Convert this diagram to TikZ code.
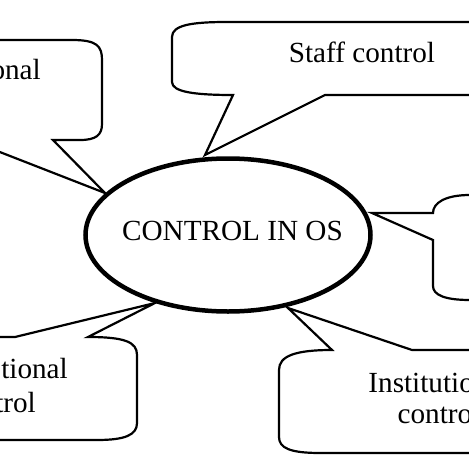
\documentclass[tikz,border=0pt]{standalone}
\usepackage{fontspec}
\setmainfont{Liberation Serif}
\usetikzlibrary{shapes.geometric}
\begin{document}
\begin{tikzpicture}[x=1pt,y=-1pt,
  callout/.style={draw=black,line width=2.2pt,line join=miter,fill=white},
  lbl/.style={inner sep=0pt,font=\fontsize{29.2}{32}\selectfont},
  hub/.style={ellipse,draw=black,line width=4.5pt,inner sep=0pt,minimum width=285pt,minimum height=153pt,fill=white}]
\useasboundingbox (0,0) rectangle (469,469);
\clip (0,0) rectangle (469,469);
% tips of the callouts
\coordinate (tStaff) at (205,155);
\coordinate (tTL) at (105,193);
\coordinate (tBL) at (155,303);
\coordinate (tR) at (372,213);
\coordinate (tBR) at (288,308);
% staff control callout
\draw[callout] (233,95) -- (tStaff) -- (325,95) -- (480,95) -- (480,22) -- (227,22)
  .. controls (192,22) and (172,25) .. (172,37) -- (172,82)
  .. controls (172,92) and (195,95) .. (233,95) -- cycle;
% top-left callout
\draw[callout] (-20,40) -- (72,40) .. controls (97,40) and (102,46) .. (102,60)
  -- (102,124) .. controls (102,135) and (96,140) .. (80,140)
  -- (53,140) -- (tTL) -- (-31,140) -- (-40,140) -- (-40,40) -- cycle;
% bottom-left callout
\draw[callout] (-20,337) -- (15,337) -- (tBL) -- (88,337)
  .. controls (125,337) and (137,342) .. (137,355) -- (137,423)
  .. controls (137,435) and (125,440) .. (97,440) -- (-20,440) -- cycle;
% right callout
\draw[callout] (490,195) -- (470,195) .. controls (445,195) and (433,203) .. (433,213)
  -- (tR) -- (433,240) -- (433,286) .. controls (433,295) and (445,300) .. (470,300)
  -- (490,300) -- cycle;
% bottom-right callout
\draw[callout] (490,350) -- (412,350) -- (tBR) -- (332,350)
  .. controls (295,350) and (279,356) .. (279,370) -- (279,437)
  .. controls (279,448) and (290,453) .. (320,453) -- (490,453) -- cycle;
% hub
\node[hub] (c) at (228,235) {};
\node[lbl,anchor=base] (ct) at (232.5,240) {CONTROL IN OS};
\node[lbl,anchor=base] (ls) at (362,62) {Staff control};
\node[lbl,anchor=base east] (ltl) at (41,79) {onal};
\node[lbl,anchor=base east] (lbl1) at (68,378) {tional};
\node[lbl,anchor=base east] (lbl2) at (36,412) {trol};
\node[lbl,anchor=base] (lbr1) at (439,392) {Institutional};
\node[lbl,anchor=base] (lbr2) at (439,423) {control};
\end{tikzpicture}
\end{document}
